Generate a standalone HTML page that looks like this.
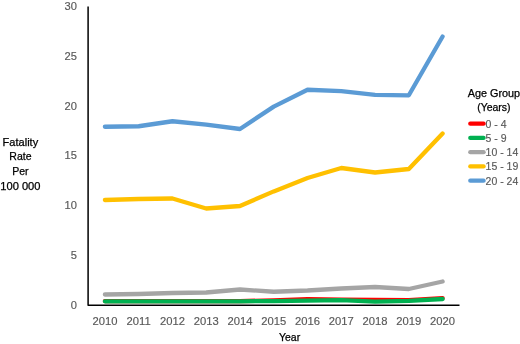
<!DOCTYPE html>
<html><head><meta charset="utf-8"><title>Fatality Rate by Age Group</title>
<style>
html,body{margin:0;padding:0;background:#fff;}
body{width:520px;height:344px;overflow:hidden;}
svg{display:block;}
text{font-family:"Liberation Sans",Arial,sans-serif;font-size:10.5px;}
.t{fill:#595959;stroke:#595959;stroke-width:0.15px;}
.k{fill:#000;stroke:#000;stroke-width:0.25px;}
.ln{fill:none;stroke-width:4.3;stroke-linecap:round;stroke-linejoin:round;}
</style></head><body>
<svg width="520" height="344" viewBox="0 0 520 344">
<rect width="520" height="344" fill="#fff"/>
<polyline class="ln" stroke="#ff0000" points="104.90,301.05 138.67,301.05 172.44,301.10 206.21,301.10 239.98,301.10 273.75,300.40 307.52,299.20 341.29,299.60 375.06,299.90 408.83,300.20 442.60,298.20"/>
<polyline class="ln" stroke="#00b050" points="104.90,301.30 138.67,301.30 172.44,301.30 206.21,301.30 239.98,301.30 273.75,301.10 307.52,300.60 341.29,300.10 375.06,301.60 408.83,300.90 442.60,299.00"/>
<polyline class="ln" stroke="#a5a5a5" points="104.90,294.50 138.67,294.00 172.44,293.00 206.21,292.50 239.98,289.50 273.75,291.75 307.52,290.50 341.29,288.50 375.06,287.00 408.83,289.00 442.60,281.50"/>
<polyline class="ln" stroke="#ffc000" points="104.90,200.00 138.67,199.00 172.44,198.50 206.21,208.50 239.98,206.00 273.75,191.40 307.52,178.00 341.29,168.00 375.06,172.50 408.83,169.00 442.60,133.50"/>
<polyline class="ln" stroke="#5b9bd5" points="104.90,126.75 138.67,126.25 172.44,121.25 206.21,124.60 239.98,129.00 273.75,106.60 307.52,89.75 341.29,91.20 375.06,94.90 408.83,95.30 442.60,36.50"/>
<path d="M88.1 6.4V305.2H459.5" fill="none" stroke="#000" stroke-width="1.5" stroke-linejoin="round"/>
<text class="t" x="76.9" y="10.0" text-anchor="end" textLength="12.39" lengthAdjust="spacingAndGlyphs">30</text>
<text class="t" x="76.9" y="59.8" text-anchor="end" textLength="12.39" lengthAdjust="spacingAndGlyphs">25</text>
<text class="t" x="76.9" y="109.6" text-anchor="end" textLength="12.39" lengthAdjust="spacingAndGlyphs">20</text>
<text class="t" x="76.9" y="159.4" text-anchor="end" textLength="12.39" lengthAdjust="spacingAndGlyphs">15</text>
<text class="t" x="76.9" y="209.2" text-anchor="end" textLength="12.39" lengthAdjust="spacingAndGlyphs">10</text>
<text class="t" x="76.9" y="259.0" text-anchor="end" textLength="6.19" lengthAdjust="spacingAndGlyphs">5</text>
<text class="t" x="76.9" y="308.8" text-anchor="end" textLength="6.19" lengthAdjust="spacingAndGlyphs">0</text>
<text class="t" x="104.9" y="324.8" text-anchor="middle" textLength="24.99" lengthAdjust="spacingAndGlyphs">2010</text>
<text class="t" x="138.67" y="324.8" text-anchor="middle" textLength="24.18" lengthAdjust="spacingAndGlyphs">2011</text>
<text class="t" x="172.44" y="324.8" text-anchor="middle" textLength="24.99" lengthAdjust="spacingAndGlyphs">2012</text>
<text class="t" x="206.21" y="324.8" text-anchor="middle" textLength="24.99" lengthAdjust="spacingAndGlyphs">2013</text>
<text class="t" x="239.98" y="324.8" text-anchor="middle" textLength="24.99" lengthAdjust="spacingAndGlyphs">2014</text>
<text class="t" x="273.75" y="324.8" text-anchor="middle" textLength="24.99" lengthAdjust="spacingAndGlyphs">2015</text>
<text class="t" x="307.52" y="324.8" text-anchor="middle" textLength="24.99" lengthAdjust="spacingAndGlyphs">2016</text>
<text class="t" x="341.29" y="324.8" text-anchor="middle" textLength="24.99" lengthAdjust="spacingAndGlyphs">2017</text>
<text class="t" x="375.06" y="324.8" text-anchor="middle" textLength="24.99" lengthAdjust="spacingAndGlyphs">2018</text>
<text class="t" x="408.83" y="324.8" text-anchor="middle" textLength="24.99" lengthAdjust="spacingAndGlyphs">2019</text>
<text class="t" x="442.6" y="324.8" text-anchor="middle" textLength="24.99" lengthAdjust="spacingAndGlyphs">2020</text>
<text class="k" x="289.6" y="341" text-anchor="middle">Year</text>
<text class="k" x="20.4" y="145.6" text-anchor="middle" textLength="35.54" lengthAdjust="spacingAndGlyphs">Fatality</text>
<text class="k" x="20.4" y="160.4" text-anchor="middle">Rate</text>
<text class="k" x="20.4" y="175.1" text-anchor="middle">Per</text>
<text class="k" x="20.4" y="189.9" text-anchor="middle" textLength="40.25" lengthAdjust="spacingAndGlyphs">100 000</text>
<text class="k" x="494.0" y="96.5" text-anchor="middle" textLength="52.32" lengthAdjust="spacingAndGlyphs">Age Group</text>
<text class="k" x="493.9" y="111.2" text-anchor="middle">(Years)</text>
<text class="t" x="485.6" y="127.5" text-anchor="start">0 - 4</text>
<text class="t" x="485.6" y="141.75" text-anchor="start">5 - 9</text>
<text class="t" x="485.6" y="156.0" text-anchor="start">10 - 14</text>
<text class="t" x="485.6" y="170.25" text-anchor="start">15 - 19</text>
<text class="t" x="485.6" y="184.5" text-anchor="start">20 - 24</text>
<line class="ln" stroke="#ff0000" x1="470.3" x2="483.6" y1="123.7" y2="123.7"/>
<line class="ln" stroke="#00b050" x1="470.3" x2="483.6" y1="137.95" y2="137.95"/>
<line class="ln" stroke="#a5a5a5" x1="470.3" x2="483.6" y1="152.2" y2="152.2"/>
<line class="ln" stroke="#ffc000" x1="470.3" x2="483.6" y1="166.45" y2="166.45"/>
<line class="ln" stroke="#5b9bd5" x1="470.3" x2="483.6" y1="180.7" y2="180.7"/>
</svg></body></html>
